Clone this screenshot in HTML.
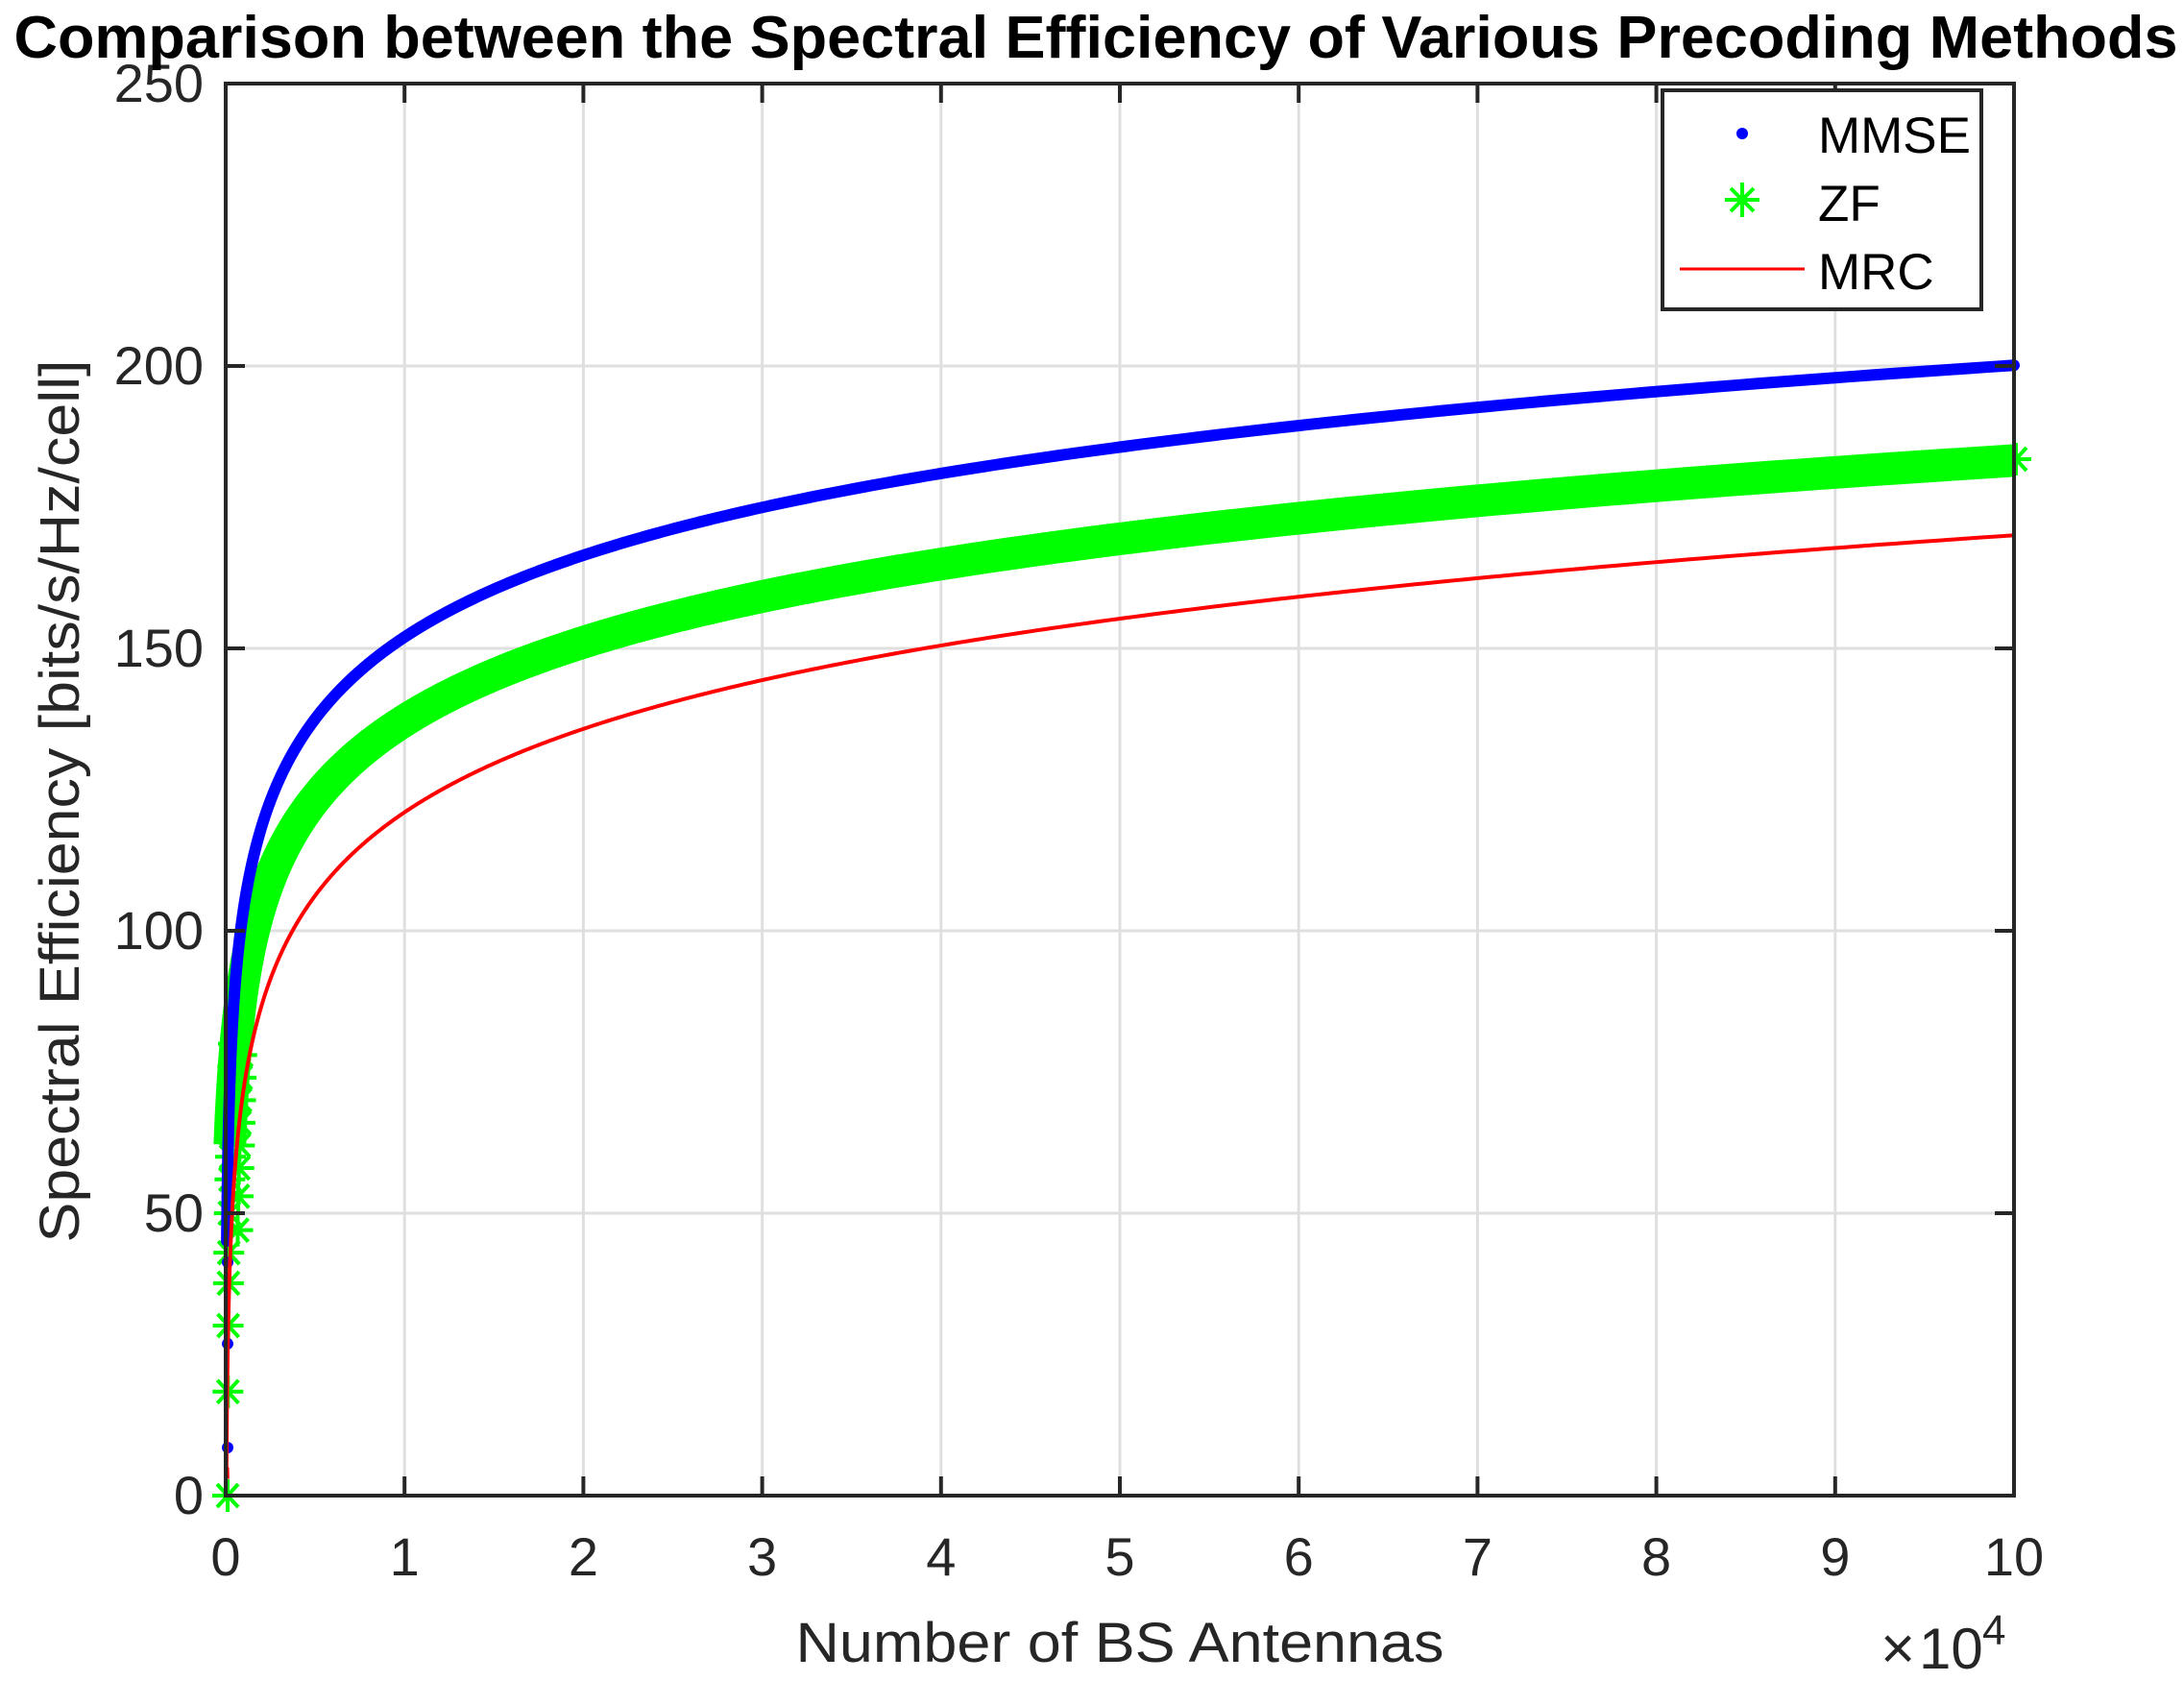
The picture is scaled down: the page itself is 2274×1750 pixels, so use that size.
<!DOCTYPE html>
<html><head><meta charset="utf-8"><style>
html,body{margin:0;padding:0;background:#fff}
svg{display:block}
text{font-family:"Liberation Sans",Arial,sans-serif;fill:#262626}
</style></head><body>
<svg id="s" width="2274" height="1750" viewBox="0 0 2274 1750" xmlns="http://www.w3.org/2000/svg">
<rect width="2274" height="1750" fill="#fff"/>
<g id="grid" stroke="#dfdfdf" stroke-width="3"></g>
<g id="series"></g>
<rect x="235" y="87" width="1862" height="1470" fill="none" stroke="#262626" stroke-width="4"/>
<g id="ticks" stroke="#262626" stroke-width="4"></g>
<g id="labels" font-size="56"></g>
<text x="1141" y="60" font-size="62" font-weight="bold" text-anchor="middle" style="fill:#000" textLength="2253" lengthAdjust="spacingAndGlyphs">Comparison between the Spectral Efficiency of Various Precoding Methods</text>
<text x="1166" y="1730" font-size="58" text-anchor="middle" textLength="675" lengthAdjust="spacingAndGlyphs">Number of BS Antennas</text>
<text transform="translate(82,834) rotate(-90)" font-size="58" text-anchor="middle" textLength="919" lengthAdjust="spacingAndGlyphs">Spectral Efficiency [bits/s/Hz/cell]</text>
<text x="1958" y="1737" font-size="62">×</text>
<text x="1998" y="1737" font-size="60">10</text>
<text x="2064" y="1712" font-size="44">4</text>
<g>
<rect x="1731" y="94" width="332" height="228" fill="#fff" stroke="#262626" stroke-width="4"/>
<circle cx="1814" cy="139" r="6" fill="#0000ff"/>
<g stroke="#00ff00" stroke-width="4" transform="translate(1814,208)">
<line x1="-18" y1="0" x2="18" y2="0"/><line x1="0" y1="-18" x2="0" y2="18"/>
<line x1="-12" y1="-12" x2="12" y2="12"/><line x1="-12" y1="12" x2="12" y2="-12"/></g>
<line x1="1749" y1="280" x2="1879" y2="280" stroke="#ff0000" stroke-width="3"/>
<text x="1893" y="159" font-size="53" style="fill:#000">MMSE</text>
<text x="1893" y="230" font-size="53" style="fill:#000">ZF</text>
<text x="1893" y="301" font-size="53" style="fill:#000">MRC</text>
</g>
</svg>
<script>
var NS="http://www.w3.org/2000/svg";
var L=235,R=2097,T=87,B=1557;
function X(x){return L+(R-L)*x/10;}
function Y(v){return B-(B-T)*v/250;}
function el(p,tag,a){var e=document.createElementNS(NS,tag);for(var k in a)e.setAttribute(k,a[k]);p.appendChild(e);return e;}
var g=document.getElementById('grid'),t=document.getElementById('ticks'),lb=document.getElementById('labels');
for(var i=0;i<=10;i++){var x=X(i);
 if(i>0&&i<10)el(g,'line',{x1:x,y1:T,x2:x,y2:B});
 el(t,'line',{x1:x,y1:B,x2:x,y2:B-20});el(t,'line',{x1:x,y1:T,x2:x,y2:T+20});
 var tx=el(lb,'text',{x:x,y:1640,'text-anchor':'middle'});tx.textContent=i;}
for(var v=0;v<=250;v+=50){var y=Y(v);
 if(v>0&&v<250)el(g,'line',{x1:L,y1:y,x2:R,y2:y});
 el(t,'line',{x1:L,y1:y,x2:L+20,y2:y});el(t,'line',{x1:R,y1:y,x2:R-20,y2:y});
 var ty=el(lb,'text',{x:212,y:y+19,'text-anchor':'end'});ty.textContent=v;}
var S=document.getElementById('series');
function path(f,M0,val0){var pts=[];
 for(var k=0;k<=900;k++){var M=M0*Math.pow(100000/M0,k/900);var v=f(M);if(v<val0)continue;
  pts.push(X(M/10000).toFixed(2)+","+Y(v).toFixed(2));}
 return "M"+pts.join("L");}
var fz=function(M){return 20*Math.log(M)-47;};
var fm=function(M){return 20.9*Math.log(M)-40.5;};
var fr=function(M){return 21.3*Math.log(M)-75.2;};
function ast(cx,cy){var gg=el(S,'g',{stroke:'#00ff00','stroke-width':4,transform:'translate('+cx+','+cy+')'});
 el(gg,'line',{x1:-16,y1:0,x2:16,y2:0});el(gg,'line',{x1:0,y1:-17,x2:0,y2:17});
 el(gg,'line',{x1:-11,y1:-12,x2:11,y2:12});el(gg,'line',{x1:-11,y1:12,x2:11,y2:-12});}
// ZF band
el(S,'path',{d:path(fz,20,62),fill:'none',stroke:'#00ff00','stroke-width':34,'stroke-linejoin':'round'});
var zv=[0,18.4,30.1,37.6,43,47,50,53,56,58,60,62,64,66,68,70,72,74,76,78,80];
for(var i=0;i<zv.length;i++){ast(237+(i>4?(i%2)*9:0)+i*0.3,Y(zv[i]));}
ast(2099,Y(183.5));
// MMSE
el(S,'path',{d:path(fm,60,45),fill:'none',stroke:'#0000ff','stroke-width':12,'stroke-linecap':'round','stroke-linejoin':'round'});
[8.5,26.9,41.3].forEach(function(v){el(S,'circle',{cx:237,cy:Y(v),r:6,fill:'#0000ff'});});
// MRC
var rp=path(fr,40,3);
el(S,'path',{d:"M236.5,"+Y(5)+"L236.8,"+Y(3)+rp.replace(/^M/,"L"),fill:'none',stroke:'#ff0000','stroke-width':4});
</script>
</body></html>
